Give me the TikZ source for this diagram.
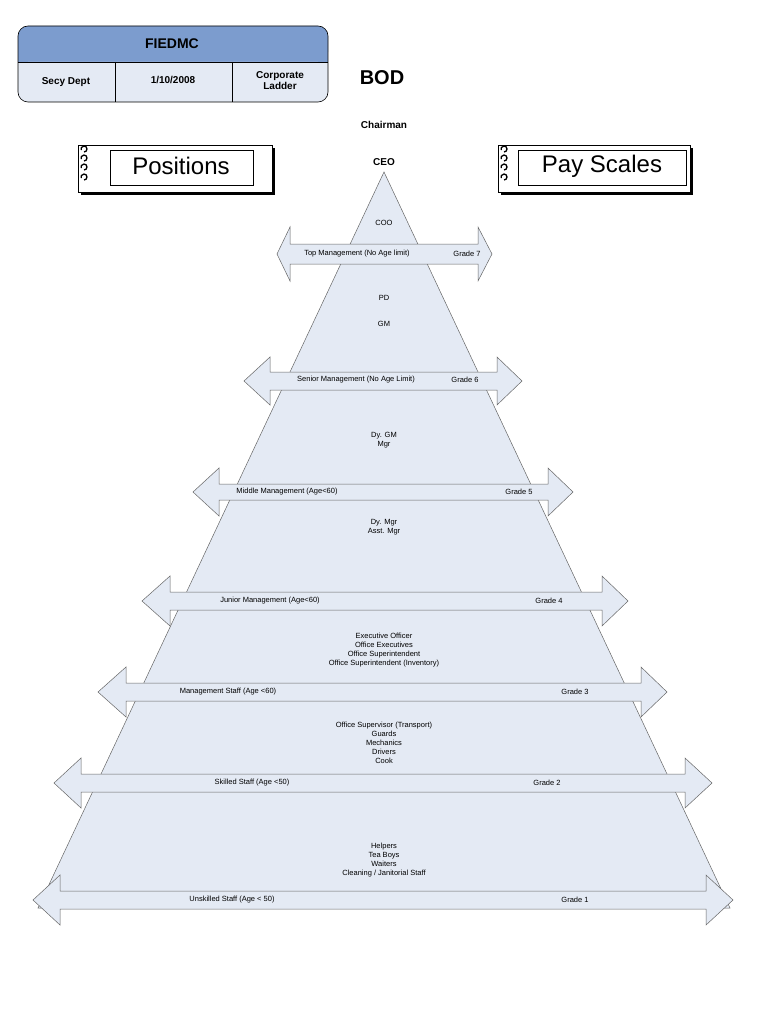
\documentclass[tikz,border=0pt]{standalone}
\usepackage{fontspec}
\setmainfont{Liberation Sans}
\begin{document}
\begin{tikzpicture}[x=1pt,y=-1pt,
  lab/.style={font=\fontsize{7.5}{9}\selectfont,inner sep=0pt},
  ppl/.style={font=\fontsize{7.5}{9}\selectfont,align=center,inner sep=0pt},
  arr/.style={draw=gray!80!black,fill=blfill,line width=0.5pt},
  nb/.style={draw=black,fill=white,line width=0.6pt}]
\definecolor{blfill}{HTML}{E4EAF4}
\definecolor{hdr}{HTML}{7C9CCE}
\useasboundingbox (0,0) rectangle (768,1024);
% pyramid
\draw[fill=blfill,draw=gray!80!black,line width=0.5pt] (384,172) -- (38,908) -- (730,908) -- cycle;
% arrows: tipL, baseL, tipR, baseR, center, half body, half head
\foreach \tl/\bl/\tr/\br/\c/\hb/\hh in {277/290/492/478/254/10/27, 244/270/522/497/381/9/24, 193/219/573/548/492/8/24, 142/170/628/602/601/9/25, 98/126/667/641/692/9/25, 54/81/712/685/783/9/25, 33/60/733/706/900/9/25}{
  \draw[arr] (\tl,\c) -- (\bl,\c-\hh) -- (\bl,\c-\hb) -- (\br,\c-\hb) -- (\br,\c-\hh) -- (\tr,\c) -- (\br,\c+\hh) -- (\br,\c+\hb) -- (\bl,\c+\hb) -- (\bl,\c+\hh) -- cycle;
}
\node[lab] (l7) at (357,254) {Top Management (No Age limit)};
\node[lab] (g7) at (467,254) {Grade 7};
\node[lab] (l6) at (356,380) {Senior Management (No Age Limit)};
\node[lab] (g6) at (465,380) {Grade 6};
\node[lab] (l5) at (287,492) {Middle Management (Age<60)};
\node[lab] (g5) at (519,492) {Grade 5};
\node[lab] (l4) at (270,601) {Junior Management (Age<60)};
\node[lab] (g4) at (549,601) {Grade 4};
\node[lab] (l3) at (228,692) {Management Staff (Age <60)};
\node[lab] (g3) at (575,692) {Grade 3};
\node[lab] (l2) at (252,783) {Skilled Staff (Age <50)};
\node[lab] (g2) at (547,783) {Grade 2};
\node[lab] (l1) at (232,900) {Unskilled Staff (Age < 50)};
\node[lab] (g1) at (575,900) {Grade 1};
% positions
\node[ppl] (coo) at (384,223) {COO};
\node[ppl] (pd) at (384,298) {PD};
\node[ppl] (gm) at (384,324) {GM};
\node[ppl] (dgm) at (384,440) {Dy. GM\\Mgr};
\node[ppl] (dmgr) at (384,527) {Dy. Mgr\\Asst. Mgr};
\node[ppl] (exec) at (384,650) {Executive Officer\\Office Executives\\Office Superintendent\\Office Superintendent (Inventory)};
\node[ppl] (sup) at (384,743) {Office Supervisor (Transport)\\Guards\\Mechanics\\Drivers\\Cook};
\node[ppl] (help) at (384,860) {Helpers\\Tea Boys\\Waiters\\Cleaning / Janitorial Staff};
% top texts
\node[font=\bfseries\fontsize{10}{12}\selectfont] (ceo) at (384,162) {CEO};
\node[font=\bfseries\fontsize{10}{12}\selectfont] (chair) at (384,125) {Chairman};
\node[font=\bfseries\fontsize{20}{24}\selectfont] (bod) at (382,78) {BOD};
% header
\fill[hdr,rounded corners=10pt] (18,26) rectangle (328,62);
\fill[hdr] (18,50) rectangle (328,62);
\fill[blfill,rounded corners=10pt] (18,62) rectangle (328,102);
\fill[blfill] (18,62) rectangle (328,80);
\draw[line width=0.6pt,rounded corners=10pt] (18,26) rectangle (328,102);
\draw[line width=0.6pt] (18,62) -- (328,62) (115,62) -- (115,102) (232,62) -- (232,102);
\node[font=\bfseries\fontsize{14}{16}\selectfont] (fi) at (172,44) {FIEDMC};
\node[font=\bfseries\fontsize{10}{12}\selectfont] (sd) at (66,82) {Secy Dept};
\node[font=\bfseries\fontsize{10}{12}\selectfont] (dt) at (173,80) {1/10/2008};
\node[font=\bfseries\fontsize{10}{11}\selectfont,align=center] (cl) at (280,81) {Corporate\\Ladder};
% notebooks
\foreach \xa/\xb/\xi in {78/272/110, 498/690/530}{
  \fill[black] (\xa+3,148) rectangle (\xb+3,195);
  \draw[nb] (\xa,145) rectangle (\xb,192);
  \foreach \yy in {152,161,170,180}{\draw[line width=1.3pt] (\xa+6,\yy) arc (90:-200:3);}
}
\draw[line width=0.6pt] (110,150) rectangle (253,185);
\draw[line width=0.6pt] (518,150) rectangle (686,185);
\node[font=\fontsize{24}{28}\selectfont] (pos) at (181,166) {Positions};
\node[font=\fontsize{24}{28}\selectfont] (pay) at (602,166) {Pay Scales};
\end{tikzpicture}
\end{document}
